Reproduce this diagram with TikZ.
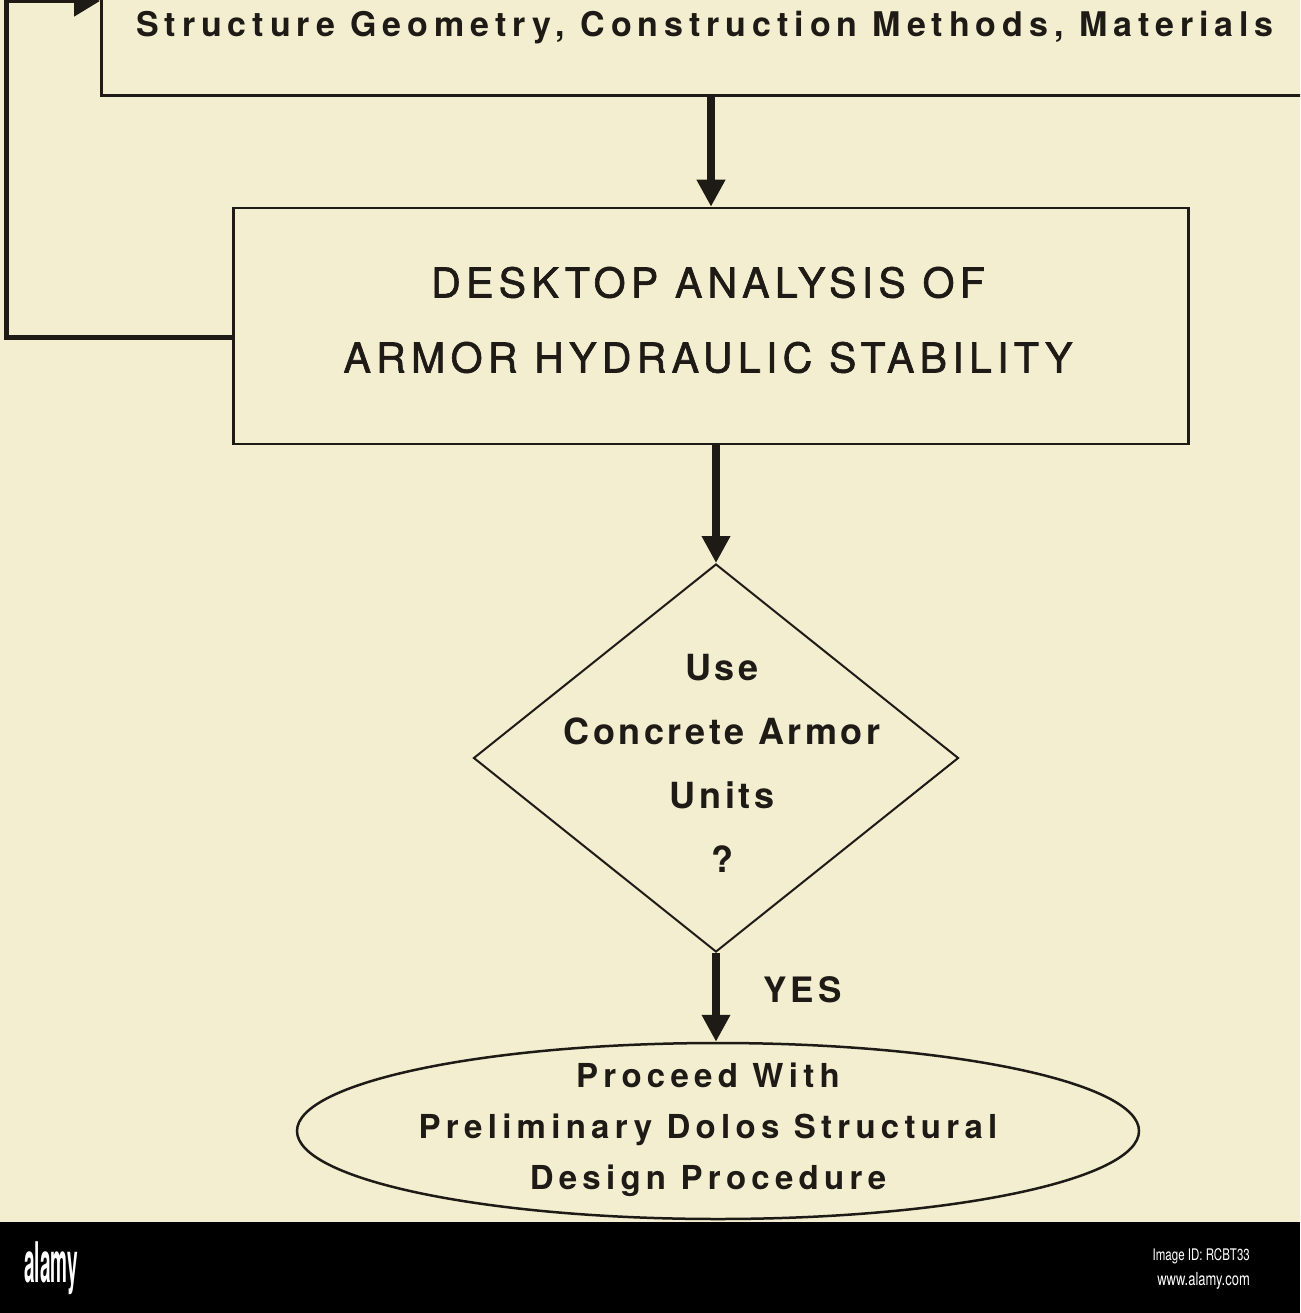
\documentclass[tikz,border=0pt]{standalone}
\usepackage{fontspec}
\setmainfont{TeX Gyre Heros}
\newfontfamily\fsTop[LetterSpace=17.5]{TeX Gyre Heros Bold}
\newfontfamily\fsBig[LetterSpace=13,FakeBold=1.5]{TeX Gyre Heros}
\newfontfamily\fsDia[LetterSpace=10]{TeX Gyre Heros Bold}
\newfontfamily\fsEll[LetterSpace=16]{TeX Gyre Heros Bold}
\newfontfamily\fsYes[LetterSpace=12]{TeX Gyre Heros Bold}
\usetikzlibrary{shapes.geometric,arrows.meta}
\definecolor{ink}{RGB}{30,26,22}
\definecolor{paper}{RGB}{243,238,208}
\tikzset{
  boxline/.style={draw=ink, line width=2.5pt},
  flowarr/.style={draw=ink, line width=7.5pt, -{Triangle[width=27pt,length=27pt]}},
  fbline/.style={draw=ink, line width=5pt, -{Triangle[width=30pt,length=26pt]}},
  txt/.style={text=ink, inner sep=0pt, align=center}
}
\begin{document}
\begin{tikzpicture}[x=1pt,y=-1pt]
\fill[paper] (0,0) rectangle (1300,1313);
\useasboundingbox (0,0) rectangle (1300,1313);
\begin{scope}
\clip (0,0) rectangle (1300,1222);
% top box (cut off)
\node[boxline, minimum width=1260pt, minimum height=150pt, anchor=south west, inner sep=0pt] (top) at (100,97) {};
\node[txt, font=\fsTop\fontsize{34}{34}\selectfont] (toptxt) at (705,28) {Structure Geometry, Construction Methods, Materials};
% desktop box
\node[boxline, minimum width=955pt, minimum height=236pt, inner sep=0pt] (desk) at (711,326) {};
\node[txt, font=\fsBig\fontsize{41}{75}\selectfont] (desktxt) at (708,320) {DESKTOP ANALYSIS OF\\ARMOR HYDRAULIC STABILITY};
% decision
\node[diamond, draw=ink, line width=2pt, minimum width=485pt, minimum height=388pt, inner sep=0pt] (dia) at (716,758) {};
\node[txt, font=\fsDia\fontsize{36}{64}\selectfont] (diatxt) at (722,763) {Use\\Concrete Armor\\Units\\?};
% terminal
\node[ellipse, draw=ink, line width=2.5pt, minimum width=842pt, minimum height=176pt, inner sep=0pt] (ell) at (718,1131) {};
\node[txt, font=\fsEll\fontsize{33}{51}\selectfont] (elltxt) at (708,1130) {Proceed With\\Preliminary Dolos Structural\\Design Procedure};
% connectors
\draw[flowarr] (top.south -| desk.north) -- (desk.north);
\draw[flowarr] (desk.south -| dia.north) -- (dia.north);
\draw[flowarr] (dia.south) -- (dia.south |- ell.north);
\node[txt, font=\fsYes\fontsize{35}{35}\selectfont, anchor=west] (yes) at (763,990) {YES};
\coordinate (fb) at (6,1);
\draw[fbline] ([yshift=-11pt]desk.west) -| (fb) -- (fb -| top.west);
\end{scope}
% bottom banner
\fill[black] (0,1222) rectangle (1300,1313);
\node[text=white, inner sep=0pt, anchor=west] (logo) at (24,1268) {\scalebox{0.34}[1]{\fontsize{56}{56}\selectfont\bfseries alamy}};
\node[text=white, inner sep=0pt, anchor=east] (imgid) at (1250,1256) {\scalebox{0.72}[1]{\fontsize{16}{16}\selectfont Image ID: RCBT33}};
\node[text=white, inner sep=0pt, anchor=east] (www) at (1250,1281) {\scalebox{0.72}[1]{\fontsize{18}{18}\selectfont www.alamy.com}};
\end{tikzpicture}
\end{document}
